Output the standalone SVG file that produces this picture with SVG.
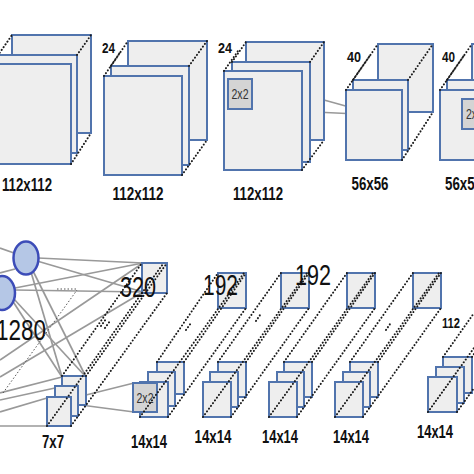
<svg xmlns="http://www.w3.org/2000/svg" width="474" height="474" viewBox="0 0 474 474">
<style>
.f{fill:#eeeeee;stroke:#5174ad;stroke-width:2}
.k{fill:#d4d4d4;stroke:#5174ad;stroke-width:2}
.d{fill:none;stroke:#1a1a1a;stroke-width:2;stroke-dasharray:0.1 3.3;stroke-linecap:round}
.t{fill:none;stroke:#555;stroke-width:1;stroke-dasharray:1.5 2}
.g{fill:none;stroke:#999;stroke-width:1.7}
.n{fill:#b5c7e6;stroke:#3c4cb8;stroke-width:2.5}
.lb{font-family:"Liberation Sans",Arial,sans-serif;font-weight:bold;font-size:18px;fill:#111}
.sm{font-family:"Liberation Sans",Arial,sans-serif;font-weight:bold;font-size:14px;fill:#111}
.bg{font-family:"Liberation Sans",Arial,sans-serif;font-size:29px;fill:#111}
.in{font-family:"Liberation Sans",Arial,sans-serif;font-size:14px;fill:#333}
</style>
<rect width="474" height="474" fill="#ffffff"/>

<g id="connectors">
  <line class="g" x1="0" y1="99" x2="8" y2="101"/>
  <line class="g" x1="252" y1="80" x2="378" y2="115"/>
  <line class="g" x1="252" y1="109" x2="378" y2="115"/>
  <line class="g" x1="0" y1="248" x2="14" y2="253"/>
  <line class="g" x1="0" y1="273" x2="15" y2="269"/>
  <line class="g" x1="38" y1="258" x2="143" y2="263"/>
  <line class="g" x1="37" y1="261" x2="143" y2="292"/>
  <line class="g" x1="31" y1="272" x2="62" y2="377"/>
  <line class="g" x1="33" y1="271" x2="86" y2="377"/>
  <line class="g" x1="15" y1="288" x2="143" y2="263"/>
  <line class="g" x1="15" y1="290" x2="143" y2="292"/>
  <line class="g" x1="12" y1="300" x2="62" y2="377"/>
  <line class="g" x1="13" y1="298" x2="86" y2="377"/>
  <line class="g" x1="0" y1="360" x2="143" y2="263"/>
  <line class="g" x1="0" y1="377" x2="143" y2="292"/>
  <line class="g" x1="0" y1="393" x2="62" y2="377"/>
  <line class="g" x1="0" y1="400" x2="55" y2="388"/>
  <line class="g" x1="0" y1="412" x2="47" y2="398"/>
  <line class="g" x1="0" y1="426" x2="47" y2="426"/>
  <line class="g" x1="58" y1="402" x2="134" y2="383"/>
  <line class="g" x1="58" y1="402" x2="134" y2="412"/>
  <line class="t" x1="3" y1="393" x2="77" y2="290"/>
  <line class="t" x1="57" y1="289" x2="78" y2="289"/>
</g>

<g id="block1">
  <rect class="f" x="12" y="35" width="79" height="98"/>
  <rect class="f" x="-2" y="55" width="79" height="98"/>
  <rect class="f" x="-8" y="64" width="79" height="100"/>
  <line class="d" x1="-8" y1="64" x2="12" y2="35"/>
  <line class="d" x1="77" y1="55" x2="91" y2="35"/>
  <line class="d" x1="71" y1="164" x2="91" y2="133"/>
  <text class="lb" x="27" y="191" text-anchor="middle" textLength="50" lengthAdjust="spacingAndGlyphs">112x112</text>
</g>

<g id="block2">
  <rect class="f" x="128" y="41" width="79" height="99"/>
  <rect class="f" x="111" y="66" width="78" height="99"/>
  <rect class="f" x="104" y="76" width="78" height="99"/>
  <line class="d" x1="104" y1="76" x2="121" y2="51"/>
  <line class="d" x1="111" y1="66" x2="128" y2="41"/>
  <line class="d" x1="189" y1="66" x2="207" y2="41"/>
  <line class="d" x1="182" y1="175" x2="207" y2="140"/>
  <text class="sm" x="102" y="53" textLength="13" lengthAdjust="spacingAndGlyphs">24</text>
  <text class="lb" x="138" y="200" text-anchor="middle" textLength="51" lengthAdjust="spacingAndGlyphs">112x112</text>
</g>

<g id="block3">
  <rect class="f" x="246" y="42" width="78" height="98"/>
  <rect class="f" x="232" y="62" width="78" height="100"/>
  <rect class="f" x="224" y="71" width="78" height="99"/>
  <rect class="k" x="228" y="79" width="24" height="30"/>
  <text class="in" x="240" y="99" text-anchor="middle" textLength="17" lengthAdjust="spacingAndGlyphs">2x2</text>
  <line class="d" x1="224" y1="71" x2="238" y2="51"/>
  <line class="d" x1="232" y1="62" x2="246" y2="42"/>
  <line class="d" x1="310" y1="62" x2="324" y2="42"/>
  <line class="d" x1="302" y1="170" x2="324" y2="140"/>
  <text class="sm" x="218" y="53" textLength="14" lengthAdjust="spacingAndGlyphs">24</text>
  <text class="lb" x="258" y="200" text-anchor="middle" textLength="50" lengthAdjust="spacingAndGlyphs">112x112</text>
</g>

<g id="block4">
  <rect class="f" x="378" y="44" width="55" height="68"/>
  <rect class="f" x="353" y="80" width="55" height="70"/>
  <rect class="f" x="346" y="90" width="56" height="70"/>
  <line class="d" x1="346" y1="90" x2="371" y2="54"/>
  <line class="d" x1="353" y1="80" x2="378" y2="44"/>
  <line class="d" x1="408" y1="80" x2="433" y2="44"/>
  <line class="d" x1="402" y1="160" x2="433" y2="112"/>
  <text class="sm" x="347" y="62" textLength="14" lengthAdjust="spacingAndGlyphs">40</text>
  <text class="lb" x="370" y="190" text-anchor="middle" textLength="37" lengthAdjust="spacingAndGlyphs">56x56</text>
</g>

<g id="block5">
  <rect class="f" x="472" y="44" width="60" height="68"/>
  <rect class="f" x="447" y="80" width="55" height="70"/>
  <rect class="f" x="440" y="90" width="56" height="70"/>
  <rect class="k" x="462" y="99" width="24" height="30"/>
  <text class="in" x="466" y="119" textLength="17" lengthAdjust="spacingAndGlyphs">2x2</text>
  <line class="d" x1="440" y1="90" x2="465" y2="54"/>
  <line class="d" x1="447" y1="80" x2="472" y2="44"/>
  <text class="sm" x="442" y="62" textLength="13" lengthAdjust="spacingAndGlyphs">40</text>
  <text class="lb" x="445" y="190" textLength="37" lengthAdjust="spacingAndGlyphs">56x56</text>
</g>

<g id="fc1280">
  <ellipse class="n" cx="26" cy="258" rx="12.5" ry="16.5"/>
  <ellipse class="n" cx="2" cy="293" rx="13" ry="17"/>
  <text class="bg" x="-4" y="340" textLength="50" lengthAdjust="spacingAndGlyphs">1280</text>
</g>

<g id="conv320">
  <rect class="f" x="142" y="263" width="25" height="30"/>
  <rect class="f" x="62" y="376" width="24" height="29"/>
  <rect class="f" x="55" y="386" width="23" height="30"/>
  <rect class="f" x="47" y="397" width="24" height="29"/>
  <line class="d" x1="62" y1="376" x2="142" y2="263"/>
  <line class="d" x1="86" y1="376" x2="167" y2="263"/>
  <line class="d" x1="71" y1="426" x2="167" y2="293"/>
  <line class="d" x1="47" y1="426" x2="142" y2="293"/>
  <line class="d" x1="142" y1="293" x2="163" y2="264"/>
  <line class="d" x1="101" y1="326" x2="106" y2="319"/>
  <line class="d" x1="105" y1="328" x2="110" y2="321"/>
  <text class="bg" x="120" y="297" textLength="36" lengthAdjust="spacingAndGlyphs">320</text>
  <text class="lb" x="53" y="448" text-anchor="middle" textLength="22" lengthAdjust="spacingAndGlyphs">7x7</text>
</g>

<g id="conv192a">
  <rect class="f" x="218" y="273" width="28" height="35"/>
  <rect class="f" x="157" y="362" width="27" height="32"/>
  <rect class="f" x="148" y="372" width="27" height="34"/>
  <rect class="f" x="140" y="382" width="28" height="35"/>
  <rect class="k" x="133" y="383" width="24" height="29"/>
  <text class="in" x="145" y="403" text-anchor="middle" textLength="17" lengthAdjust="spacingAndGlyphs">2x2</text>
  <line class="d" x1="157" y1="362" x2="218" y2="273"/>
  <line class="d" x1="184" y1="362" x2="246" y2="273"/>
  <line class="d" x1="168" y1="417" x2="246" y2="308"/>
  <line class="d" x1="140" y1="417" x2="244" y2="273"/>
  <line class="d" x1="186" y1="330" x2="191" y2="323"/>
  <text class="bg" x="203" y="295" textLength="35" lengthAdjust="spacingAndGlyphs">192</text>
  <text class="lb" x="149" y="448" text-anchor="middle" textLength="36" lengthAdjust="spacingAndGlyphs">14x14</text>
</g>

<g id="conv192b">
  <rect class="f" x="281" y="273" width="28" height="35"/>
  <rect class="f" x="218" y="362" width="28" height="35"/>
  <rect class="f" x="210" y="372" width="28" height="35"/>
  <rect class="f" x="203" y="382" width="28" height="35"/>
  <line class="d" x1="218" y1="362" x2="281" y2="273"/>
  <line class="d" x1="246" y1="362" x2="309" y2="273"/>
  <line class="d" x1="231" y1="417" x2="309" y2="308"/>
  <line class="d" x1="203" y1="417" x2="307" y2="273"/>
  <line class="d" x1="256" y1="321" x2="260" y2="315"/>
  <text class="bg" x="295" y="285" textLength="36" lengthAdjust="spacingAndGlyphs">192</text>
  <text class="lb" x="213" y="443" text-anchor="middle" textLength="37" lengthAdjust="spacingAndGlyphs">14x14</text>
</g>

<g id="conv192c">
  <rect class="f" x="347" y="273" width="28" height="35"/>
  <rect class="f" x="284" y="362" width="28" height="35"/>
  <rect class="f" x="277" y="372" width="27" height="35"/>
  <rect class="f" x="269" y="382" width="28" height="35"/>
  <line class="d" x1="284" y1="362" x2="347" y2="273"/>
  <line class="d" x1="312" y1="362" x2="375" y2="273"/>
  <line class="d" x1="297" y1="417" x2="375" y2="308"/>
  <line class="d" x1="269" y1="417" x2="373" y2="273"/>
  <text class="lb" x="280" y="443" text-anchor="middle" textLength="36" lengthAdjust="spacingAndGlyphs">14x14</text>
</g>

<g id="conv192d">
  <rect class="f" x="413" y="273" width="28" height="35"/>
  <rect class="f" x="350" y="362" width="28" height="35"/>
  <rect class="f" x="343" y="372" width="27" height="35"/>
  <rect class="f" x="335" y="382" width="28" height="35"/>
  <line class="d" x1="350" y1="362" x2="413" y2="273"/>
  <line class="d" x1="378" y1="362" x2="441" y2="273"/>
  <line class="d" x1="363" y1="417" x2="441" y2="308"/>
  <line class="d" x1="335" y1="417" x2="439" y2="273"/>
  <line class="d" x1="386" y1="330" x2="390" y2="324"/>
  <text class="lb" x="351" y="443" text-anchor="middle" textLength="36" lengthAdjust="spacingAndGlyphs">14x14</text>
</g>

<g id="conv112">
  <rect class="f" x="443" y="357" width="29" height="36"/>
  <rect class="f" x="436" y="367" width="28" height="36"/>
  <rect class="f" x="428" y="377" width="29" height="35"/>
  <line class="d" x1="443" y1="357" x2="474" y2="313"/>
  <line class="d" x1="472" y1="357" x2="474" y2="354"/>
  <line class="d" x1="457" y1="412" x2="474" y2="388"/>
  <line class="d" x1="428" y1="412" x2="474" y2="348"/>
  <text class="sm" x="442" y="328" textLength="18" lengthAdjust="spacingAndGlyphs">112</text>
  <text class="lb" x="435" y="438" text-anchor="middle" textLength="36" lengthAdjust="spacingAndGlyphs">14x14</text>
</g>
</svg>
